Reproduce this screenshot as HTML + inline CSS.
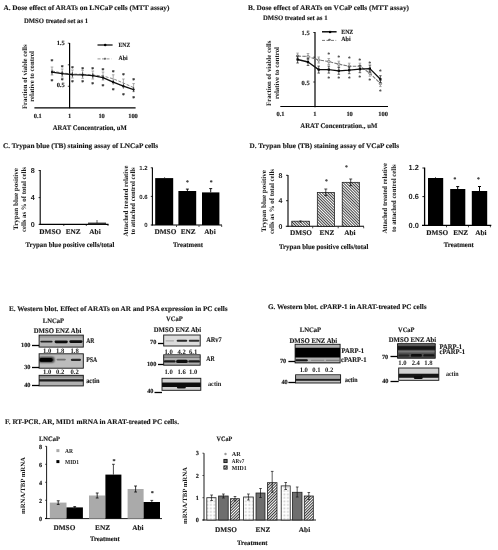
<!DOCTYPE html>
<html lang="en"><head><meta charset="utf-8"><title>Figure</title>
<style>
html,body{margin:0;padding:0;background:#fff;}
body{width:498px;height:550px;overflow:hidden;}
svg{display:block;}
.f{font-family:"Liberation Serif",serif;font-weight:bold;fill:#1a1a1a;text-rendering:geometricPrecision;}
.g{font-family:"Liberation Sans",sans-serif;font-weight:bold;fill:#1a1a1a;text-rendering:geometricPrecision;}
</style></head><body>
<svg width="498" height="550" viewBox="0 0 498 550">
<defs>
<filter id="b1" x="-20%" y="-100%" width="140%" height="300%"><feGaussianBlur stdDeviation="0.7"/></filter>
<filter id="b2" x="-20%" y="-100%" width="140%" height="300%"><feGaussianBlur stdDeviation="1.1"/></filter>
<filter id="soft"><feGaussianBlur stdDeviation="0.35"/></filter>
<pattern id="hat" width="2" height="2" patternUnits="userSpaceOnUse" patternTransform="rotate(45)"><rect width="2" height="2" fill="#fff"/><rect width="2" height="0.85" fill="#222"/></pattern>
<pattern id="hat2" width="2" height="2" patternUnits="userSpaceOnUse" patternTransform="rotate(-45)"><rect width="2" height="2" fill="#fff"/><rect width="2" height="0.9" fill="#222"/></pattern>
<pattern id="dot" width="1.4" height="1.4" patternUnits="userSpaceOnUse"><rect width="1.4" height="1.4" fill="#fff"/><rect width="0.55" height="0.55" fill="#b0b0b0"/></pattern>
</defs>
<rect width="498" height="550" fill="#fff"/>
<g filter="url(#soft)">

<text class="f" x="3.4" y="10.2" font-size="7.07" textLength="166" lengthAdjust="spacingAndGlyphs" stroke="#1a1a1a" stroke-width="0.15">A.  Dose effect of ARATs on LNCaP cells (MTT assay)</text>
<text class="f" x="24" y="23" font-size="6.86" textLength="64" lengthAdjust="spacingAndGlyphs" stroke="#1a1a1a" stroke-width="0.15">DMSO treated set as 1</text>
<line x1="69.6" y1="43" x2="69.6" y2="108.3" stroke="#000" stroke-width="1.2"/>
<line x1="34.4" y1="107.9" x2="135.6" y2="107.9" stroke="#000" stroke-width="1.2"/>
<line x1="67.8" y1="43.2" x2="69.6" y2="43.2" stroke="#000" stroke-width="0.7"/>
<line x1="67.8" y1="64.8" x2="69.6" y2="64.8" stroke="#000" stroke-width="0.7"/>
<line x1="67.8" y1="86.3" x2="69.6" y2="86.3" stroke="#000" stroke-width="0.7"/>
<text class="f" x="64.7" y="45.2" font-size="6.45" text-anchor="end" stroke="#1a1a1a" stroke-width="0.15">1.5</text>
<text class="f" x="64.7" y="86.7" font-size="6.45" text-anchor="end" stroke="#1a1a1a" stroke-width="0.15">0.5</text>
<text class="f" x="37.8" y="117.5" font-size="6.45" text-anchor="middle" stroke="#1a1a1a" stroke-width="0.15">0.1</text>
<text class="f" x="69.6" y="117.5" font-size="6.45" text-anchor="middle" stroke="#1a1a1a" stroke-width="0.15">1</text>
<text class="f" x="101.6" y="117.5" font-size="6.45" text-anchor="middle" stroke="#1a1a1a" stroke-width="0.15">10</text>
<text class="f" x="133" y="117.5" font-size="6.45" text-anchor="middle" stroke="#1a1a1a" stroke-width="0.15">100</text>
<text class="f" x="52.8" y="129.5" font-size="7.07" textLength="74" lengthAdjust="spacingAndGlyphs" stroke="#1a1a1a" stroke-width="0.15">ARAT Concentration, uM</text>
<text class="f" x="26.68" y="109" font-size="6.86" textLength="64.5" lengthAdjust="spacingAndGlyphs" transform="rotate(-90 26.68 109)" fill="#3a3a3a">Fraction of viable cells</text>
<text class="f" x="34.48" y="101.8" font-size="6.86" textLength="50.8" lengthAdjust="spacingAndGlyphs" transform="rotate(-90 34.48 101.8)" fill="#3a3a3a">relative to control</text>
<line x1="97.5" y1="45" x2="112.6" y2="45" stroke="#000" stroke-width="1.2"/>
<circle cx="105.2" cy="45" r="1.3" fill="#000"/>
<text class="f" x="118.6" y="46.9" font-size="6.24" textLength="11.6" lengthAdjust="spacingAndGlyphs" stroke="#1a1a1a" stroke-width="0.15">ENZ</text>
<line x1="97.5" y1="58.9" x2="111.3" y2="58.9" stroke="#888" stroke-width="0.9" stroke-dasharray="3 1.5"/>
<text class="f" x="105" y="60.8" font-size="5" text-anchor="middle" fill="#777" stroke="#777" stroke-width="0.15">*</text>
<text class="f" x="118.6" y="60.2" font-size="6.24" textLength="9" lengthAdjust="spacingAndGlyphs" stroke="#1a1a1a" stroke-width="0.15">Abi</text>
<polyline points="52,71 62.2,73 72.4,74 82.6,74.3 92.8,75 103,76 113.2,78.8 123.4,83 133.6,87.6" fill="none" stroke="#888" stroke-width="1" stroke-dasharray="3 1.5"/>
<line x1="52" y1="67" x2="52" y2="75" stroke="#888" stroke-width="0.7"/>
<line x1="50.7" y1="67" x2="53.3" y2="67" stroke="#888" stroke-width="0.7"/>
<line x1="50.7" y1="75" x2="53.3" y2="75" stroke="#888" stroke-width="0.7"/>
<line x1="62.2" y1="69" x2="62.2" y2="77" stroke="#888" stroke-width="0.7"/>
<line x1="60.900000000000006" y1="69" x2="63.5" y2="69" stroke="#888" stroke-width="0.7"/>
<line x1="60.900000000000006" y1="77" x2="63.5" y2="77" stroke="#888" stroke-width="0.7"/>
<line x1="72.4" y1="70" x2="72.4" y2="78" stroke="#888" stroke-width="0.7"/>
<line x1="71.10000000000001" y1="70" x2="73.7" y2="70" stroke="#888" stroke-width="0.7"/>
<line x1="71.10000000000001" y1="78" x2="73.7" y2="78" stroke="#888" stroke-width="0.7"/>
<line x1="82.6" y1="70.3" x2="82.6" y2="78.3" stroke="#888" stroke-width="0.7"/>
<line x1="81.3" y1="70.3" x2="83.89999999999999" y2="70.3" stroke="#888" stroke-width="0.7"/>
<line x1="81.3" y1="78.3" x2="83.89999999999999" y2="78.3" stroke="#888" stroke-width="0.7"/>
<line x1="92.8" y1="71" x2="92.8" y2="79" stroke="#888" stroke-width="0.7"/>
<line x1="91.5" y1="71" x2="94.1" y2="71" stroke="#888" stroke-width="0.7"/>
<line x1="91.5" y1="79" x2="94.1" y2="79" stroke="#888" stroke-width="0.7"/>
<line x1="103" y1="72" x2="103" y2="80" stroke="#888" stroke-width="0.7"/>
<line x1="101.7" y1="72" x2="104.3" y2="72" stroke="#888" stroke-width="0.7"/>
<line x1="101.7" y1="80" x2="104.3" y2="80" stroke="#888" stroke-width="0.7"/>
<line x1="113.2" y1="74.8" x2="113.2" y2="82.8" stroke="#888" stroke-width="0.7"/>
<line x1="111.9" y1="74.8" x2="114.5" y2="74.8" stroke="#888" stroke-width="0.7"/>
<line x1="111.9" y1="82.8" x2="114.5" y2="82.8" stroke="#888" stroke-width="0.7"/>
<line x1="123.4" y1="79" x2="123.4" y2="87" stroke="#888" stroke-width="0.7"/>
<line x1="122.10000000000001" y1="79" x2="124.7" y2="79" stroke="#888" stroke-width="0.7"/>
<line x1="122.10000000000001" y1="87" x2="124.7" y2="87" stroke="#888" stroke-width="0.7"/>
<line x1="133.6" y1="83.6" x2="133.6" y2="91.6" stroke="#888" stroke-width="0.7"/>
<line x1="132.29999999999998" y1="83.6" x2="134.9" y2="83.6" stroke="#888" stroke-width="0.7"/>
<line x1="132.29999999999998" y1="91.6" x2="134.9" y2="91.6" stroke="#888" stroke-width="0.7"/>
<polyline points="52,72.1 62.2,73.6 72.4,74.6 82.6,74.8 92.8,75.6 103,77.6 113.2,82.2 123.4,86.2 133.6,89.6" fill="none" stroke="#111" stroke-width="1.3" stroke-linejoin="round"/>
<circle cx="52" cy="72.1" r="1.1" fill="#000"/>
<line x1="52" y1="69.6" x2="52" y2="74.6" stroke="#222" stroke-width="0.6"/>
<circle cx="62.2" cy="73.6" r="1.1" fill="#000"/>
<line x1="62.2" y1="71.1" x2="62.2" y2="76.1" stroke="#222" stroke-width="0.6"/>
<circle cx="72.4" cy="74.6" r="1.1" fill="#000"/>
<line x1="72.4" y1="72.1" x2="72.4" y2="77.1" stroke="#222" stroke-width="0.6"/>
<circle cx="82.6" cy="74.8" r="1.1" fill="#000"/>
<line x1="82.6" y1="72.3" x2="82.6" y2="77.3" stroke="#222" stroke-width="0.6"/>
<circle cx="92.8" cy="75.6" r="1.1" fill="#000"/>
<line x1="92.8" y1="73.1" x2="92.8" y2="78.1" stroke="#222" stroke-width="0.6"/>
<circle cx="103" cy="77.6" r="1.1" fill="#000"/>
<line x1="103" y1="75.1" x2="103" y2="80.1" stroke="#222" stroke-width="0.6"/>
<circle cx="113.2" cy="82.2" r="1.1" fill="#000"/>
<line x1="113.2" y1="79.7" x2="113.2" y2="84.7" stroke="#222" stroke-width="0.6"/>
<circle cx="123.4" cy="86.2" r="1.1" fill="#000"/>
<line x1="123.4" y1="83.7" x2="123.4" y2="88.7" stroke="#222" stroke-width="0.6"/>
<circle cx="133.6" cy="89.6" r="1.1" fill="#000"/>
<line x1="133.6" y1="87.1" x2="133.6" y2="92.1" stroke="#222" stroke-width="0.6"/>
<text class="f" x="52" y="63.43" font-size="5.8" text-anchor="middle" fill="#2a2a2a" stroke="#2a2a2a" stroke-width="0.15">*</text>
<text class="f" x="52" y="82.73" font-size="5.8" text-anchor="middle" fill="#2a2a2a" stroke="#2a2a2a" stroke-width="0.15">*</text>
<text class="f" x="62.2" y="68.73" font-size="5.8" text-anchor="middle" fill="#2a2a2a" stroke="#2a2a2a" stroke-width="0.15">*</text>
<text class="f" x="62.2" y="81.73" font-size="5.8" text-anchor="middle" fill="#2a2a2a" stroke="#2a2a2a" stroke-width="0.15">*</text>
<text class="f" x="72.4" y="69.73" font-size="5.8" text-anchor="middle" fill="#2a2a2a" stroke="#2a2a2a" stroke-width="0.15">*</text>
<text class="f" x="72.4" y="84.33" font-size="5.8" text-anchor="middle" fill="#2a2a2a" stroke="#2a2a2a" stroke-width="0.15">*</text>
<text class="f" x="82.6" y="70.73" font-size="5.8" text-anchor="middle" fill="#2a2a2a" stroke="#2a2a2a" stroke-width="0.15">*</text>
<text class="f" x="82.6" y="84.33" font-size="5.8" text-anchor="middle" fill="#2a2a2a" stroke="#2a2a2a" stroke-width="0.15">*</text>
<text class="f" x="92.8" y="70.73" font-size="5.8" text-anchor="middle" fill="#2a2a2a" stroke="#2a2a2a" stroke-width="0.15">*</text>
<text class="f" x="92.8" y="85.53" font-size="5.8" text-anchor="middle" fill="#2a2a2a" stroke="#2a2a2a" stroke-width="0.15">*</text>
<text class="f" x="103" y="71.73" font-size="5.8" text-anchor="middle" fill="#2a2a2a" stroke="#2a2a2a" stroke-width="0.15">*</text>
<text class="f" x="103" y="88.33" font-size="5.8" text-anchor="middle" fill="#2a2a2a" stroke="#2a2a2a" stroke-width="0.15">*</text>
<text class="f" x="113.2" y="74.23" font-size="5.8" text-anchor="middle" fill="#2a2a2a" stroke="#2a2a2a" stroke-width="0.15">*</text>
<text class="f" x="113.2" y="92.33" font-size="5.8" text-anchor="middle" fill="#2a2a2a" stroke="#2a2a2a" stroke-width="0.15">*</text>
<text class="f" x="123.4" y="77.23" font-size="5.8" text-anchor="middle" fill="#2a2a2a" stroke="#2a2a2a" stroke-width="0.15">*</text>
<text class="f" x="123.4" y="96.73" font-size="5.8" text-anchor="middle" fill="#2a2a2a" stroke="#2a2a2a" stroke-width="0.15">*</text>
<text class="f" x="133.6" y="81.53" font-size="5.8" text-anchor="middle" fill="#2a2a2a" stroke="#2a2a2a" stroke-width="0.15">*</text>
<text class="f" x="133.6" y="100.33" font-size="5.8" text-anchor="middle" fill="#2a2a2a" stroke="#2a2a2a" stroke-width="0.15">*</text>
<text class="f" x="248" y="9.8" font-size="7.07" textLength="161" lengthAdjust="spacingAndGlyphs" stroke="#1a1a1a" stroke-width="0.15">B. Dose effect of ARATs on VCaP cells (MTT assay)</text>
<text class="f" x="263" y="20.2" font-size="6.86" textLength="64.5" lengthAdjust="spacingAndGlyphs" stroke="#1a1a1a" stroke-width="0.15">DMSO treated set as 1</text>
<line x1="315" y1="32" x2="315" y2="107.2" stroke="#000" stroke-width="1.2"/>
<line x1="280.3" y1="106.5" x2="388" y2="106.5" stroke="#000" stroke-width="1.2"/>
<line x1="313.2" y1="32.5" x2="315" y2="32.5" stroke="#000" stroke-width="0.7"/>
<line x1="313.2" y1="57.2" x2="315" y2="57.2" stroke="#000" stroke-width="0.7"/>
<line x1="313.2" y1="82" x2="315" y2="82" stroke="#000" stroke-width="0.7"/>
<text class="f" x="309.6" y="35.2" font-size="6.45" text-anchor="end" stroke="#1a1a1a" stroke-width="0.15">1.5</text>
<text class="f" x="309.6" y="85.2" font-size="6.45" text-anchor="end" stroke="#1a1a1a" stroke-width="0.15">0.5</text>
<text class="f" x="280.5" y="116.2" font-size="6.45" text-anchor="middle" stroke="#1a1a1a" stroke-width="0.15">0.1</text>
<text class="f" x="314.8" y="116.2" font-size="6.45" text-anchor="middle" stroke="#1a1a1a" stroke-width="0.15">1</text>
<text class="f" x="349.6" y="116.2" font-size="6.45" text-anchor="middle" stroke="#1a1a1a" stroke-width="0.15">10</text>
<text class="f" x="383.2" y="116.2" font-size="6.45" text-anchor="middle" stroke="#1a1a1a" stroke-width="0.15">100</text>
<text class="f" x="300.3" y="128.2" font-size="7.07" textLength="77" lengthAdjust="spacingAndGlyphs" stroke="#1a1a1a" stroke-width="0.15">ARAT Concentration., uM</text>
<text class="f" x="271.18" y="106" font-size="6.86" textLength="65.4" lengthAdjust="spacingAndGlyphs" transform="rotate(-90 271.18 106)" fill="#3a3a3a">Fraction of viable cells</text>
<text class="f" x="279.38" y="99" font-size="6.86" textLength="52" lengthAdjust="spacingAndGlyphs" transform="rotate(-90 279.38 99)" fill="#3a3a3a">relative to control</text>
<line x1="322" y1="31.8" x2="336.6" y2="31.8" stroke="#000" stroke-width="1.4"/>
<rect x="329" y="30.9" width="2.2" height="2.2" fill="#000"/>
<text class="f" x="341.3" y="34" font-size="6.45" textLength="11.9" lengthAdjust="spacingAndGlyphs" stroke="#1a1a1a" stroke-width="0.15">ENZ</text>
<line x1="322" y1="40.4" x2="336.2" y2="40.4" stroke="#777" stroke-width="1" stroke-dasharray="3 1.5"/>
<text class="f" x="329.4" y="42.3" font-size="5" text-anchor="middle" fill="#666" stroke="#666" stroke-width="0.15">*</text>
<text class="f" x="341.3" y="40.7" font-size="6.45" textLength="9.3" lengthAdjust="spacingAndGlyphs" stroke="#1a1a1a" stroke-width="0.15">Abi</text>
<polyline points="297.6,56.1 308,56.5 318.7,60 328.8,61.5 338.8,64.2 349.2,66.2 359.9,66.2 369.9,73.2 380.4,83.6" fill="none" stroke="#777" stroke-width="1.1" stroke-dasharray="3.5 1.2"/>
<line x1="297.6" y1="53.1" x2="297.6" y2="59.1" stroke="#888" stroke-width="0.7"/>
<line x1="296.3" y1="53.1" x2="298.90000000000003" y2="53.1" stroke="#888" stroke-width="0.7"/>
<line x1="296.3" y1="59.1" x2="298.90000000000003" y2="59.1" stroke="#888" stroke-width="0.7"/>
<circle cx="297.6" cy="56.1" r="1.3" fill="#ccc" stroke="#777" stroke-width="0.7"/>
<line x1="308" y1="53.5" x2="308" y2="59.5" stroke="#888" stroke-width="0.7"/>
<line x1="306.7" y1="53.5" x2="309.3" y2="53.5" stroke="#888" stroke-width="0.7"/>
<line x1="306.7" y1="59.5" x2="309.3" y2="59.5" stroke="#888" stroke-width="0.7"/>
<circle cx="308" cy="56.5" r="1.3" fill="#ccc" stroke="#777" stroke-width="0.7"/>
<line x1="318.7" y1="57" x2="318.7" y2="63" stroke="#888" stroke-width="0.7"/>
<line x1="317.4" y1="57" x2="320.0" y2="57" stroke="#888" stroke-width="0.7"/>
<line x1="317.4" y1="63" x2="320.0" y2="63" stroke="#888" stroke-width="0.7"/>
<circle cx="318.7" cy="60" r="1.3" fill="#ccc" stroke="#777" stroke-width="0.7"/>
<line x1="328.8" y1="58.5" x2="328.8" y2="64.5" stroke="#888" stroke-width="0.7"/>
<line x1="327.5" y1="58.5" x2="330.1" y2="58.5" stroke="#888" stroke-width="0.7"/>
<line x1="327.5" y1="64.5" x2="330.1" y2="64.5" stroke="#888" stroke-width="0.7"/>
<circle cx="328.8" cy="61.5" r="1.3" fill="#ccc" stroke="#777" stroke-width="0.7"/>
<line x1="338.8" y1="61.2" x2="338.8" y2="67.2" stroke="#888" stroke-width="0.7"/>
<line x1="337.5" y1="61.2" x2="340.1" y2="61.2" stroke="#888" stroke-width="0.7"/>
<line x1="337.5" y1="67.2" x2="340.1" y2="67.2" stroke="#888" stroke-width="0.7"/>
<circle cx="338.8" cy="64.2" r="1.3" fill="#ccc" stroke="#777" stroke-width="0.7"/>
<line x1="349.2" y1="63.2" x2="349.2" y2="69.2" stroke="#888" stroke-width="0.7"/>
<line x1="347.9" y1="63.2" x2="350.5" y2="63.2" stroke="#888" stroke-width="0.7"/>
<line x1="347.9" y1="69.2" x2="350.5" y2="69.2" stroke="#888" stroke-width="0.7"/>
<circle cx="349.2" cy="66.2" r="1.3" fill="#ccc" stroke="#777" stroke-width="0.7"/>
<line x1="359.9" y1="63.2" x2="359.9" y2="69.2" stroke="#888" stroke-width="0.7"/>
<line x1="358.59999999999997" y1="63.2" x2="361.2" y2="63.2" stroke="#888" stroke-width="0.7"/>
<line x1="358.59999999999997" y1="69.2" x2="361.2" y2="69.2" stroke="#888" stroke-width="0.7"/>
<circle cx="359.9" cy="66.2" r="1.3" fill="#ccc" stroke="#777" stroke-width="0.7"/>
<line x1="369.9" y1="70.2" x2="369.9" y2="76.2" stroke="#888" stroke-width="0.7"/>
<line x1="368.59999999999997" y1="70.2" x2="371.2" y2="70.2" stroke="#888" stroke-width="0.7"/>
<line x1="368.59999999999997" y1="76.2" x2="371.2" y2="76.2" stroke="#888" stroke-width="0.7"/>
<circle cx="369.9" cy="73.2" r="1.3" fill="#ccc" stroke="#777" stroke-width="0.7"/>
<line x1="380.4" y1="80.6" x2="380.4" y2="86.6" stroke="#888" stroke-width="0.7"/>
<line x1="379.09999999999997" y1="80.6" x2="381.7" y2="80.6" stroke="#888" stroke-width="0.7"/>
<line x1="379.09999999999997" y1="86.6" x2="381.7" y2="86.6" stroke="#888" stroke-width="0.7"/>
<circle cx="380.4" cy="83.6" r="1.3" fill="#ccc" stroke="#777" stroke-width="0.7"/>
<polyline points="297.6,59.5 308,62 318.7,69.6 328.8,69.6 338.8,70.8 349.2,70.2 359.9,69.2 369.9,68.6 380.4,79.2" fill="none" stroke="#111" stroke-width="1.3" stroke-linejoin="round"/>
<rect x="296.5" y="58.4" width="2.2" height="2.2" fill="#000"/>
<line x1="297.6" y1="56.0" x2="297.6" y2="63.0" stroke="#111" stroke-width="0.7"/>
<line x1="296.3" y1="56.0" x2="298.90000000000003" y2="56.0" stroke="#111" stroke-width="0.6"/>
<line x1="296.3" y1="63.0" x2="298.90000000000003" y2="63.0" stroke="#111" stroke-width="0.6"/>
<rect x="306.9" y="60.9" width="2.2" height="2.2" fill="#000"/>
<line x1="308" y1="58.5" x2="308" y2="65.5" stroke="#111" stroke-width="0.7"/>
<line x1="306.7" y1="58.5" x2="309.3" y2="58.5" stroke="#111" stroke-width="0.6"/>
<line x1="306.7" y1="65.5" x2="309.3" y2="65.5" stroke="#111" stroke-width="0.6"/>
<rect x="317.59999999999997" y="68.5" width="2.2" height="2.2" fill="#000"/>
<line x1="318.7" y1="66.1" x2="318.7" y2="73.1" stroke="#111" stroke-width="0.7"/>
<line x1="317.4" y1="66.1" x2="320.0" y2="66.1" stroke="#111" stroke-width="0.6"/>
<line x1="317.4" y1="73.1" x2="320.0" y2="73.1" stroke="#111" stroke-width="0.6"/>
<rect x="327.7" y="68.5" width="2.2" height="2.2" fill="#000"/>
<line x1="328.8" y1="66.1" x2="328.8" y2="73.1" stroke="#111" stroke-width="0.7"/>
<line x1="327.5" y1="66.1" x2="330.1" y2="66.1" stroke="#111" stroke-width="0.6"/>
<line x1="327.5" y1="73.1" x2="330.1" y2="73.1" stroke="#111" stroke-width="0.6"/>
<rect x="337.7" y="69.7" width="2.2" height="2.2" fill="#000"/>
<line x1="338.8" y1="67.3" x2="338.8" y2="74.3" stroke="#111" stroke-width="0.7"/>
<line x1="337.5" y1="67.3" x2="340.1" y2="67.3" stroke="#111" stroke-width="0.6"/>
<line x1="337.5" y1="74.3" x2="340.1" y2="74.3" stroke="#111" stroke-width="0.6"/>
<rect x="348.09999999999997" y="69.10000000000001" width="2.2" height="2.2" fill="#000"/>
<line x1="349.2" y1="66.7" x2="349.2" y2="73.7" stroke="#111" stroke-width="0.7"/>
<line x1="347.9" y1="66.7" x2="350.5" y2="66.7" stroke="#111" stroke-width="0.6"/>
<line x1="347.9" y1="73.7" x2="350.5" y2="73.7" stroke="#111" stroke-width="0.6"/>
<rect x="358.79999999999995" y="68.10000000000001" width="2.2" height="2.2" fill="#000"/>
<line x1="359.9" y1="65.7" x2="359.9" y2="72.7" stroke="#111" stroke-width="0.7"/>
<line x1="358.59999999999997" y1="65.7" x2="361.2" y2="65.7" stroke="#111" stroke-width="0.6"/>
<line x1="358.59999999999997" y1="72.7" x2="361.2" y2="72.7" stroke="#111" stroke-width="0.6"/>
<rect x="368.79999999999995" y="67.5" width="2.2" height="2.2" fill="#000"/>
<line x1="369.9" y1="65.1" x2="369.9" y2="72.1" stroke="#111" stroke-width="0.7"/>
<line x1="368.59999999999997" y1="65.1" x2="371.2" y2="65.1" stroke="#111" stroke-width="0.6"/>
<line x1="368.59999999999997" y1="72.1" x2="371.2" y2="72.1" stroke="#111" stroke-width="0.6"/>
<rect x="379.29999999999995" y="78.10000000000001" width="2.2" height="2.2" fill="#000"/>
<line x1="380.4" y1="75.7" x2="380.4" y2="82.7" stroke="#111" stroke-width="0.7"/>
<line x1="379.09999999999997" y1="75.7" x2="381.7" y2="75.7" stroke="#111" stroke-width="0.6"/>
<line x1="379.09999999999997" y1="82.7" x2="381.7" y2="82.7" stroke="#111" stroke-width="0.6"/>
<text class="f" x="328.8" y="56.14" font-size="5.2" text-anchor="middle" fill="#555" stroke="#555" stroke-width="0.15">*</text>
<text class="f" x="328.8" y="80.04" font-size="5.2" text-anchor="middle" fill="#555" stroke="#555" stroke-width="0.15">*</text>
<text class="f" x="338.8" y="59.14" font-size="5.2" text-anchor="middle" fill="#555" stroke="#555" stroke-width="0.15">*</text>
<text class="f" x="338.8" y="80.04" font-size="5.2" text-anchor="middle" fill="#555" stroke="#555" stroke-width="0.15">*</text>
<text class="f" x="349.2" y="60.44" font-size="5.2" text-anchor="middle" fill="#555" stroke="#555" stroke-width="0.15">*</text>
<text class="f" x="349.2" y="80.04" font-size="5.2" text-anchor="middle" fill="#555" stroke="#555" stroke-width="0.15">*</text>
<text class="f" x="359.9" y="61.94" font-size="5.2" text-anchor="middle" fill="#555" stroke="#555" stroke-width="0.15">*</text>
<text class="f" x="359.9" y="78.64" font-size="5.2" text-anchor="middle" fill="#555" stroke="#555" stroke-width="0.15">*</text>
<text class="f" x="369.9" y="65.14" font-size="5.2" text-anchor="middle" fill="#555" stroke="#555" stroke-width="0.15">*</text>
<text class="f" x="369.9" y="82.04" font-size="5.2" text-anchor="middle" fill="#555" stroke="#555" stroke-width="0.15">*</text>
<text class="f" x="380.4" y="73.24" font-size="5.2" text-anchor="middle" fill="#555" stroke="#555" stroke-width="0.15">*</text>
<text class="f" x="380.4" y="92.74" font-size="5.2" text-anchor="middle" fill="#555" stroke="#555" stroke-width="0.15">*</text>
<text class="f" x="3" y="147.5" font-size="7.07" textLength="155" lengthAdjust="spacingAndGlyphs" stroke="#1a1a1a" stroke-width="0.15">C. Trypan blue (TB) staining assay of LNCaP cells</text>
<line x1="40.2" y1="170" x2="40.2" y2="225" stroke="#000" stroke-width="1.1"/>
<line x1="39.5" y1="224.4" x2="108.5" y2="224.4" stroke="#000" stroke-width="1.1"/>
<line x1="63.8" y1="224.3" x2="63.8" y2="226" stroke="#000" stroke-width="0.7"/>
<line x1="86.3" y1="224.3" x2="86.3" y2="226" stroke="#000" stroke-width="0.7"/>
<line x1="108" y1="224.3" x2="108" y2="226" stroke="#000" stroke-width="0.7"/>
<text class="g" x="34.7" y="173.1" font-size="7.2" text-anchor="end">8</text>
<line x1="38.6" y1="170.5" x2="40.2" y2="170.5" stroke="#000" stroke-width="0.8"/>
<text class="g" x="34.7" y="200.2" font-size="7.2" text-anchor="end">4</text>
<line x1="38.6" y1="197.6" x2="40.2" y2="197.6" stroke="#000" stroke-width="0.8"/>
<text class="g" x="34.7" y="227.0" font-size="7.2" text-anchor="end">0</text>
<line x1="38.6" y1="224.4" x2="40.2" y2="224.4" stroke="#000" stroke-width="0.8"/>
<text class="f" x="50.2" y="234.1" font-size="7.28" text-anchor="middle" stroke="#1a1a1a" stroke-width="0.15">DMSO</text>
<text class="f" x="73.2" y="234.1" font-size="7.28" text-anchor="middle" stroke="#1a1a1a" stroke-width="0.15">ENZ</text>
<text class="f" x="95" y="234.1" font-size="7.28" text-anchor="middle" stroke="#1a1a1a" stroke-width="0.15">Abi</text>
<text class="f" x="25.6" y="247" font-size="7.07" textLength="88.8" lengthAdjust="spacingAndGlyphs" stroke="#1a1a1a" stroke-width="0.15">Trypan blue positive cells/total</text>
<text class="f" x="18.48" y="230" font-size="6.86" textLength="62" lengthAdjust="spacingAndGlyphs" transform="rotate(-90 18.48 230)" fill="#3a3a3a">Trypan blue positive</text>
<text class="f" x="26.28" y="232" font-size="6.86" textLength="65" lengthAdjust="spacingAndGlyphs" transform="rotate(-90 26.28 232)" fill="#3a3a3a">cells as % of total cells</text>
<rect x="88.00" y="222.60" width="18.00" height="1.60" fill="#333"/>
<line x1="97" y1="220" x2="97" y2="223" stroke="#000" stroke-width="0.6"/>
<line x1="152.4" y1="167.6" x2="152.4" y2="225.6" stroke="#000" stroke-width="1.1"/>
<line x1="150.8" y1="225" x2="222" y2="225" stroke="#000" stroke-width="1.1"/>
<line x1="150.8" y1="167.8" x2="152.4" y2="167.8" stroke="#000" stroke-width="0.8"/>
<line x1="150.8" y1="196.4" x2="152.4" y2="196.4" stroke="#000" stroke-width="0.8"/>
<line x1="176.5" y1="225.3" x2="176.5" y2="227" stroke="#000" stroke-width="0.7"/>
<line x1="199" y1="225.3" x2="199" y2="227" stroke="#000" stroke-width="0.7"/>
<line x1="221.7" y1="225.3" x2="221.7" y2="227" stroke="#000" stroke-width="0.7"/>
<text class="g" x="147.7" y="169.79999999999998" font-size="6" text-anchor="end">1.2</text>
<text class="g" x="147.7" y="198.5" font-size="6" text-anchor="end">0.6</text>
<text class="g" x="147.7" y="227.2" font-size="6" text-anchor="end">0</text>
<rect x="155.20" y="178.10" width="18.00" height="46.90" fill="#050505"/>
<rect x="178.40" y="191.00" width="17.80" height="34.00" fill="#050505"/>
<rect x="202.00" y="192.40" width="17.40" height="32.60" fill="#050505"/>
<line x1="187.4" y1="189" x2="187.4" y2="191" stroke="#000" stroke-width="0.9"/>
<line x1="185.9" y1="189.1" x2="188.9" y2="189.1" stroke="#000" stroke-width="0.9"/>
<line x1="210.7" y1="188.5" x2="210.7" y2="192.4" stroke="#000" stroke-width="0.9"/>
<line x1="209.2" y1="188.6" x2="212.2" y2="188.6" stroke="#000" stroke-width="0.9"/>
<line x1="164.6" y1="177.3" x2="164.6" y2="178" stroke="#000" stroke-width="0.7"/>
<text class="f" x="187.5" y="183.83" font-size="5.6" text-anchor="middle" fill="#333" stroke="#333" stroke-width="0.15">*</text>
<text class="f" x="211.2" y="183.83" font-size="5.6" text-anchor="middle" fill="#333" stroke="#333" stroke-width="0.15">*</text>
<text class="f" x="165.4" y="233.7" font-size="7.28" text-anchor="middle" stroke="#1a1a1a" stroke-width="0.15">DMSO</text>
<text class="f" x="188.2" y="233.7" font-size="7.28" text-anchor="middle" stroke="#1a1a1a" stroke-width="0.15">ENZ</text>
<text class="f" x="210" y="233.7" font-size="7.28" text-anchor="middle" stroke="#1a1a1a" stroke-width="0.15">Abi</text>
<text class="f" x="173.1" y="247.1" font-size="7.07" textLength="30" lengthAdjust="spacingAndGlyphs" stroke="#1a1a1a" stroke-width="0.15">Treatment</text>
<text class="f" x="127.68" y="236.4" font-size="6.86" textLength="70.9" lengthAdjust="spacingAndGlyphs" transform="rotate(-90 127.68 236.4)" fill="#3a3a3a">Attached treated relative</text>
<text class="f" x="134.98" y="234.5" font-size="6.86" textLength="67.2" lengthAdjust="spacingAndGlyphs" transform="rotate(-90 134.98 234.5)" fill="#3a3a3a">to attached control cells</text>
<text class="f" x="249.5" y="148.3" font-size="7.07" textLength="149.5" lengthAdjust="spacingAndGlyphs" stroke="#1a1a1a" stroke-width="0.15">D. Trypan blue (TB) staining assay of VCaP cells</text>
<line x1="288" y1="175" x2="288" y2="226.8" stroke="#000" stroke-width="1.1"/>
<line x1="285.8" y1="226.3" x2="364" y2="226.3" stroke="#000" stroke-width="1.1"/>
<line x1="286" y1="175.3" x2="288" y2="175.3" stroke="#000" stroke-width="0.8"/>
<line x1="286" y1="200.7" x2="288" y2="200.7" stroke="#000" stroke-width="0.8"/>
<line x1="312.7" y1="226.6" x2="312.7" y2="228.3" stroke="#000" stroke-width="0.7"/>
<line x1="338.2" y1="226.6" x2="338.2" y2="228.3" stroke="#000" stroke-width="0.7"/>
<line x1="363.7" y1="226.6" x2="363.7" y2="228.3" stroke="#000" stroke-width="0.7"/>
<text class="g" x="282.4" y="177.9" font-size="7" text-anchor="end">8</text>
<text class="g" x="282.4" y="203.2" font-size="7" text-anchor="end">4</text>
<text class="g" x="282.4" y="228.6" font-size="7" text-anchor="end">0</text>
<rect x="291.80" y="221.20" width="17.60" height="5.10" fill="url(#hat)" stroke="#111" stroke-width="0.7"/>
<rect x="317.30" y="192.40" width="17.30" height="33.90" fill="url(#hat)" stroke="#111" stroke-width="0.7"/>
<rect x="342.20" y="182.30" width="17.20" height="44.00" fill="url(#hat)" stroke="#111" stroke-width="0.7"/>
<line x1="325.8" y1="189" x2="325.8" y2="195.6" stroke="#000" stroke-width="0.7"/>
<line x1="324.3" y1="189" x2="327.3" y2="189" stroke="#000" stroke-width="0.7"/>
<line x1="324.3" y1="195.6" x2="327.3" y2="195.6" stroke="#000" stroke-width="0.7"/>
<line x1="350.7" y1="179" x2="350.7" y2="185.7" stroke="#000" stroke-width="0.7"/>
<line x1="349.2" y1="179" x2="352.2" y2="179" stroke="#000" stroke-width="0.7"/>
<line x1="349.2" y1="185.7" x2="352.2" y2="185.7" stroke="#000" stroke-width="0.7"/>
<line x1="300.5" y1="220.8" x2="300.5" y2="222.2" stroke="#000" stroke-width="0.5"/>
<line x1="299.3" y1="220.8" x2="301.7" y2="220.8" stroke="#000" stroke-width="0.5"/>
<line x1="299.3" y1="222.2" x2="301.7" y2="222.2" stroke="#000" stroke-width="0.5"/>
<text class="f" x="326.4" y="183.23" font-size="5.6" text-anchor="middle" fill="#444" stroke="#444" stroke-width="0.15">*</text>
<text class="f" x="346.5" y="169.33" font-size="5.6" text-anchor="middle" fill="#444" stroke="#444" stroke-width="0.15">*</text>
<text class="f" x="301" y="235.1" font-size="7.28" text-anchor="middle" stroke="#1a1a1a" stroke-width="0.15">DMSO</text>
<text class="f" x="327" y="235.1" font-size="7.28" text-anchor="middle" stroke="#1a1a1a" stroke-width="0.15">ENZ</text>
<text class="f" x="349.8" y="235.1" font-size="7.28" text-anchor="middle" stroke="#1a1a1a" stroke-width="0.15">Abi</text>
<text class="f" x="279" y="249.2" font-size="7.07" textLength="89.4" lengthAdjust="spacingAndGlyphs" stroke="#1a1a1a" stroke-width="0.15">Trypan blue positive cells/total</text>
<text class="f" x="266.18" y="232" font-size="6.86" textLength="62" lengthAdjust="spacingAndGlyphs" transform="rotate(-90 266.18 232)" fill="#3a3a3a">Trypan blue positive</text>
<text class="f" x="274.38" y="234" font-size="6.86" textLength="65" lengthAdjust="spacingAndGlyphs" transform="rotate(-90 274.38 234)" fill="#3a3a3a">cells as % of total cells</text>
<line x1="424.6" y1="167.6" x2="424.6" y2="226" stroke="#000" stroke-width="1.3"/>
<line x1="422" y1="225.4" x2="491.3" y2="225.4" stroke="#000" stroke-width="1.3"/>
<line x1="422.4" y1="168" x2="424.6" y2="168" stroke="#000" stroke-width="0.9"/>
<line x1="422.4" y1="196.6" x2="424.6" y2="196.6" stroke="#000" stroke-width="0.9"/>
<line x1="446.5" y1="225.6" x2="446.5" y2="227.3" stroke="#000" stroke-width="0.7"/>
<line x1="468.5" y1="225.6" x2="468.5" y2="227.3" stroke="#000" stroke-width="0.7"/>
<line x1="490.4" y1="225.6" x2="490.4" y2="227.3" stroke="#000" stroke-width="0.7"/>
<text class="g" x="418.8" y="170.1" font-size="7.4" text-anchor="end">1.2</text>
<text class="g" x="418.8" y="199.0" font-size="7.4" text-anchor="end">0.6</text>
<text class="g" x="418.8" y="227.89999999999998" font-size="7.4" text-anchor="end">0.0</text>
<rect x="428.00" y="178.00" width="15.20" height="47.40" fill="#050505"/>
<rect x="450.20" y="189.00" width="15.10" height="36.40" fill="#050505"/>
<rect x="471.80" y="191.00" width="15.40" height="34.40" fill="#050505"/>
<line x1="457.7" y1="186.4" x2="457.7" y2="189" stroke="#000" stroke-width="1"/>
<line x1="456.2" y1="186.6" x2="459.2" y2="186.6" stroke="#000" stroke-width="1"/>
<line x1="479.5" y1="186.3" x2="479.5" y2="191" stroke="#000" stroke-width="1"/>
<line x1="478" y1="186.5" x2="481" y2="186.5" stroke="#000" stroke-width="1"/>
<line x1="435.5" y1="177.2" x2="435.5" y2="178" stroke="#000" stroke-width="0.7"/>
<text class="f" x="454.8" y="181.13" font-size="5.6" text-anchor="middle" fill="#333" stroke="#333" stroke-width="0.15">*</text>
<text class="f" x="478.3" y="181.13" font-size="5.6" text-anchor="middle" fill="#333" stroke="#333" stroke-width="0.15">*</text>
<text class="f" x="437.2" y="234.7" font-size="7.28" text-anchor="middle" stroke="#1a1a1a" stroke-width="0.15">DMSO</text>
<text class="f" x="460.7" y="234.7" font-size="7.28" text-anchor="middle" stroke="#1a1a1a" stroke-width="0.15">ENZ</text>
<text class="f" x="480.8" y="234.7" font-size="7.28" text-anchor="middle" stroke="#1a1a1a" stroke-width="0.15">Abi</text>
<text class="f" x="443.8" y="247.2" font-size="7.07" textLength="30" lengthAdjust="spacingAndGlyphs" stroke="#1a1a1a" stroke-width="0.15">Treatment</text>
<text class="f" x="386.78" y="233.6" font-size="6.86" textLength="70.6" lengthAdjust="spacingAndGlyphs" transform="rotate(-90 386.78 233.6)" fill="#3a3a3a">Attached treated relative</text>
<text class="f" x="396.18" y="232" font-size="6.86" textLength="67.6" lengthAdjust="spacingAndGlyphs" transform="rotate(-90 396.18 232)" fill="#3a3a3a">to attached control cells</text>
<text class="f" x="9" y="310.8" font-size="7.07" textLength="218.5" lengthAdjust="spacingAndGlyphs" stroke="#1a1a1a" stroke-width="0.15">E. Western blot. Effect of ARATs on AR and PSA expression in PC cells</text>
<text class="f" x="42.8" y="323" font-size="6.86" textLength="21.2" lengthAdjust="spacingAndGlyphs" stroke="#1a1a1a" stroke-width="0.15">LNCaP</text>
<text class="f" x="33.7" y="333" font-size="7.07" textLength="47.6" lengthAdjust="spacingAndGlyphs" stroke="#1a1a1a" stroke-width="0.15">DMSO ENZ Abi</text>
<g><clipPath id="c39_335"><rect x="39.1" y="335.1" width="44.2" height="12"/></clipPath>
<rect x="39.10" y="335.10" width="44.20" height="12.00" fill="#b4b4b4"/>
<g clip-path="url(#c39_335)">
<rect x="37.10" y="335.25" width="48.20" height="2.50" rx="1.25" fill="#999" filter="url(#b1)"/>
<rect x="40.35" y="340.70" width="12.23" height="1.80" rx="0.90" fill="#222" filter="url(#b1)"/>
<rect x="54.58" y="340.45" width="13.23" height="2.70" rx="1.35" fill="#111" filter="url(#b1)"/>
<rect x="69.32" y="340.25" width="13.23" height="2.70" rx="1.35" fill="#111" filter="url(#b1)"/>
</g>
<rect x="39.1" y="335.1" width="44.2" height="12" fill="none" stroke="#111" stroke-width="0.9"/></g>
<text class="f" x="86.2" y="343.2" font-size="7.28" textLength="8.2" lengthAdjust="spacingAndGlyphs" stroke="#1a1a1a" stroke-width="0.15">AR</text>
<text class="f" x="30.4" y="347.40000000000003" font-size="6.24" text-anchor="end" stroke="#1a1a1a" stroke-width="0.15">100</text>
<line x1="32" y1="345.5" x2="39.1" y2="345.5" stroke="#000" stroke-width="1.3"/>
<text class="f" x="47.1" y="353" font-size="6.66" text-anchor="middle" font-weight="normal" fill="#333">1.0</text>
<text class="f" x="60.2" y="353" font-size="6.66" text-anchor="middle" font-weight="normal" fill="#333">1.8</text>
<text class="f" x="74.7" y="353" font-size="6.66" text-anchor="middle" font-weight="normal" fill="#333">1.8</text>
<g><clipPath id="c39_353"><rect x="39.1" y="353.8" width="44.2" height="14.4"/></clipPath>
<rect x="39.10" y="353.80" width="44.20" height="14.40" fill="#bcbcbc"/>
<g clip-path="url(#c39_353)">
<rect x="38.85" y="357.30" width="15.23" height="5.00" rx="1.50" fill="#0a0a0a" filter="url(#b2)"/>
<rect x="39.60" y="357.90" width="12.73" height="3.80" rx="1.50" fill="#000" filter="url(#b1)"/>
<rect x="56.58" y="358.80" width="9.23" height="1.60" rx="0.80" fill="#707070" filter="url(#b1)"/>
<rect x="70.82" y="358.70" width="10.23" height="2.20" rx="1.10" fill="#2a2a2a" filter="url(#b1)"/>
</g>
<rect x="39.1" y="353.8" width="44.2" height="14.4" fill="none" stroke="#111" stroke-width="0.9"/></g>
<text class="f" x="86.2" y="361.7" font-size="7.28" textLength="11" lengthAdjust="spacingAndGlyphs" stroke="#1a1a1a" stroke-width="0.15">PSA</text>
<text class="f" x="30.4" y="369.3" font-size="6.24" text-anchor="end" stroke="#1a1a1a" stroke-width="0.15">30</text>
<line x1="32" y1="367.5" x2="39.1" y2="367.5" stroke="#000" stroke-width="1.3"/>
<text class="f" x="47.1" y="374.4" font-size="6.66" text-anchor="middle" font-weight="normal" fill="#333">1.0</text>
<text class="f" x="60.2" y="374.4" font-size="6.66" text-anchor="middle" font-weight="normal" fill="#333">0.2</text>
<text class="f" x="74.7" y="374.4" font-size="6.66" text-anchor="middle" font-weight="normal" fill="#333">0.2</text>
<g><clipPath id="c39_375"><rect x="39.1" y="375.3" width="44.2" height="10.6"/></clipPath>
<rect x="39.10" y="375.30" width="44.20" height="10.60" fill="#b0b0b0"/>
<g clip-path="url(#c39_375)">
<rect x="37.10" y="375.30" width="48.20" height="2.40" rx="1.20" fill="#8a8a8a" filter="url(#b1)"/>
<rect x="38.10" y="379.30" width="46.20" height="2.20" rx="1.10" fill="#1a1a1a" filter="url(#b1)"/>
</g>
<rect x="39.1" y="375.3" width="44.2" height="10.6" fill="none" stroke="#111" stroke-width="0.9"/></g>
<text class="f" x="86.2" y="383" font-size="7.07" textLength="13.3" lengthAdjust="spacingAndGlyphs" stroke="#1a1a1a" stroke-width="0.15">actin</text>
<text class="f" x="30.4" y="387.40000000000003" font-size="6.24" text-anchor="end" stroke="#1a1a1a" stroke-width="0.15">40</text>
<line x1="32" y1="385.5" x2="39.1" y2="385.5" stroke="#000" stroke-width="1.3"/>
<text class="f" x="166" y="321.2" font-size="6.86" textLength="16.8" lengthAdjust="spacingAndGlyphs" stroke="#1a1a1a" stroke-width="0.15">VCaP</text>
<text class="f" x="153.7" y="331.8" font-size="7.07" textLength="47.5" lengthAdjust="spacingAndGlyphs" stroke="#1a1a1a" stroke-width="0.15">DMSO ENZ Abi</text>
<g><clipPath id="c163_335"><rect x="163.7" y="335" width="36.5" height="11"/></clipPath>
<rect x="163.70" y="335.00" width="36.50" height="11.00" fill="#dcdcdc"/>
<g clip-path="url(#c163_335)">
<rect x="165.45" y="340.15" width="8.67" height="1.30" rx="0.65" fill="#aaa" filter="url(#b1)"/>
<rect x="176.62" y="339.65" width="10.67" height="2.10" rx="1.05" fill="#2a2a2a" filter="url(#b1)"/>
<rect x="188.78" y="339.70" width="10.67" height="2.00" rx="1.00" fill="#333" filter="url(#b1)"/>
</g>
<rect x="163.7" y="335" width="36.5" height="11" fill="none" stroke="#111" stroke-width="0.9"/></g>
<text class="f" x="206.2" y="341.8" font-size="7.28" textLength="15.5" lengthAdjust="spacingAndGlyphs" stroke="#1a1a1a" stroke-width="0.15">ARv7</text>
<text class="f" x="156.3" y="344.1" font-size="6.24" text-anchor="end" stroke="#1a1a1a" stroke-width="0.15">70</text>
<line x1="158" y1="343.5" x2="163.7" y2="343.5" stroke="#000" stroke-width="1.3"/>
<text class="f" x="168.7" y="353.8" font-size="6.66" text-anchor="middle" font-weight="normal" fill="#333">1.0</text>
<text class="f" x="181.6" y="353.8" font-size="6.66" text-anchor="middle" font-weight="normal" fill="#333">4.2</text>
<text class="f" x="193.2" y="353.8" font-size="6.66" text-anchor="middle" font-weight="normal" fill="#333">6.1</text>
<g><clipPath id="c163_354"><rect x="163.7" y="354.8" width="36.5" height="10.4"/></clipPath>
<rect x="163.70" y="354.80" width="36.50" height="10.40" fill="#aeaeae"/>
<g clip-path="url(#c163_354)">
<rect x="161.70" y="356.60" width="40.50" height="1.40" rx="0.70" fill="#777" filter="url(#b1)"/>
<rect x="163.95" y="360.20" width="11.67" height="2.40" rx="1.20" fill="#1c1c1c" filter="url(#b1)"/>
<rect x="176.12" y="359.85" width="11.67" height="3.10" rx="1.50" fill="#0c0c0c" filter="url(#b1)"/>
<rect x="188.28" y="360.20" width="11.67" height="2.40" rx="1.20" fill="#1c1c1c" filter="url(#b1)"/>
</g>
<rect x="163.7" y="354.8" width="36.5" height="10.4" fill="none" stroke="#111" stroke-width="0.9"/></g>
<text class="f" x="206.2" y="360.7" font-size="7.28" textLength="8.4" lengthAdjust="spacingAndGlyphs" stroke="#1a1a1a" stroke-width="0.15">AR</text>
<text class="f" x="156.3" y="366.3" font-size="6.24" text-anchor="end" stroke="#1a1a1a" stroke-width="0.15">100</text>
<line x1="158" y1="364.5" x2="163.7" y2="364.5" stroke="#000" stroke-width="1.3"/>
<text class="f" x="168.7" y="373.9" font-size="6.66" text-anchor="middle" font-weight="normal" fill="#333">1.0</text>
<text class="f" x="181.6" y="373.9" font-size="6.66" text-anchor="middle" font-weight="normal" fill="#333">1.6</text>
<text class="f" x="193.2" y="373.9" font-size="6.66" text-anchor="middle" font-weight="normal" fill="#333">1.0</text>
<g><clipPath id="c162_378"><rect x="162" y="378.3" width="38.8" height="12"/></clipPath>
<rect x="162.00" y="378.30" width="38.80" height="12.00" fill="#cfcfcf"/>
<g clip-path="url(#c162_378)">
<rect x="161.00" y="382.60" width="40.80" height="4.40" rx="1.50" fill="#111" filter="url(#b1)"/>
<rect x="176.90" y="384.80" width="9.00" height="3.60" rx="1.50" fill="#111" filter="url(#b1)"/>
</g>
<rect x="162" y="378.3" width="38.8" height="12" fill="none" stroke="#111" stroke-width="0.9"/></g>
<text class="f" x="207.9" y="386.1" font-size="6.86" textLength="13.4" lengthAdjust="spacingAndGlyphs" font-weight="normal" fill="#333">actin</text>
<text class="f" x="153.4" y="393.40000000000003" font-size="6.24" text-anchor="end" stroke="#1a1a1a" stroke-width="0.15">40</text>
<line x1="154.5" y1="392.5" x2="162" y2="392.5" stroke="#000" stroke-width="1.3"/>
<text class="f" x="268" y="309.3" font-size="7.07" textLength="158.5" lengthAdjust="spacingAndGlyphs" stroke="#1a1a1a" stroke-width="0.15">G. Western blot.  cPARP-1 in ARAT-treated PC cells</text>
<text class="f" x="299.7" y="332.2" font-size="6.86" textLength="21.5" lengthAdjust="spacingAndGlyphs" stroke="#1a1a1a" stroke-width="0.15">LNCaP</text>
<text class="f" x="289.4" y="342.6" font-size="7.07" textLength="47.8" lengthAdjust="spacingAndGlyphs" stroke="#1a1a1a" stroke-width="0.15">DMSO ENZ Abi</text>
<g><clipPath id="c295_344"><rect x="295.1" y="344.3" width="45" height="18.6"/></clipPath>
<rect x="295.10" y="344.30" width="45.00" height="18.60" fill="#b2b2b2"/>
<g clip-path="url(#c295_344)">
<rect x="293.10" y="347.80" width="49.00" height="9.60" rx="1.50" fill="#060606" filter="url(#b1)"/>
<rect x="295.35" y="359.20" width="12.50" height="2.00" rx="1.00" fill="#161616" filter="url(#b1)"/>
<rect x="310.85" y="359.70" width="13.50" height="1.20" rx="0.60" fill="#8a8a8a" filter="url(#b1)"/>
<rect x="325.85" y="359.65" width="13.50" height="1.30" rx="0.65" fill="#808080" filter="url(#b1)"/>
<rect x="293.10" y="362.60" width="49.00" height="1.20" rx="0.60" fill="#777" filter="url(#b1)"/>
</g>
<rect x="295.1" y="344.3" width="45" height="18.6" fill="none" stroke="#111" stroke-width="0.9"/></g>
<text class="f" x="341.5" y="353" font-size="7.18" textLength="22.6" lengthAdjust="spacingAndGlyphs" stroke="#1a1a1a" stroke-width="0.15">PARP-1</text>
<text class="f" x="341" y="362.3" font-size="7.18" textLength="25.6" lengthAdjust="spacingAndGlyphs" stroke="#1a1a1a" stroke-width="0.15">cPARP-1</text>
<text class="f" x="286.2" y="362.8" font-size="6.24" text-anchor="end" stroke="#1a1a1a" stroke-width="0.15">70</text>
<line x1="288.4" y1="361.5" x2="295.1" y2="361.5" stroke="#000" stroke-width="1.3"/>
<text class="f" x="303.8" y="372.3" font-size="6.66" text-anchor="middle" font-weight="normal" fill="#333">1.0</text>
<text class="f" x="316.5" y="372.3" font-size="6.66" text-anchor="middle" font-weight="normal" fill="#333">0.1</text>
<text class="f" x="329.1" y="372.3" font-size="6.66" text-anchor="middle" font-weight="normal" fill="#333">0.2</text>
<g><clipPath id="c295_374"><rect x="295.6" y="374.8" width="45" height="8.2"/></clipPath>
<rect x="295.60" y="374.80" width="45.00" height="8.20" fill="#c0c0c0"/>
<g clip-path="url(#c295_374)">
<rect x="293.60" y="376.40" width="49.00" height="1.20" rx="0.60" fill="#909090" filter="url(#b1)"/>
<rect x="294.60" y="378.85" width="47.00" height="1.90" rx="0.95" fill="#1a1a1a" filter="url(#b1)"/>
</g>
<rect x="295.6" y="374.8" width="45" height="8.2" fill="none" stroke="#111" stroke-width="0.9"/></g>
<text class="f" x="345" y="381.7" font-size="6.86" textLength="12.5" lengthAdjust="spacingAndGlyphs" stroke="#1a1a1a" stroke-width="0.15">actin</text>
<text class="f" x="287.7" y="384.20000000000005" font-size="6.24" text-anchor="end" stroke="#1a1a1a" stroke-width="0.15">40</text>
<line x1="288.4" y1="382.5" x2="295.6" y2="382.5" stroke="#000" stroke-width="1.3"/>
<text class="f" x="398" y="331.8" font-size="6.86" textLength="16.5" lengthAdjust="spacingAndGlyphs" stroke="#1a1a1a" stroke-width="0.15">VCaP</text>
<text class="f" x="388.7" y="342.2" font-size="7.07" textLength="47.5" lengthAdjust="spacingAndGlyphs" stroke="#1a1a1a" stroke-width="0.15">DMSO ENZ Abi</text>
<g><clipPath id="c397_343"><rect x="397.6" y="343.7" width="37.6" height="14.5"/></clipPath>
<rect x="397.60" y="343.70" width="37.60" height="14.50" fill="#505050"/>
<g clip-path="url(#c397_343)">
<rect x="395.60" y="343.90" width="41.60" height="1.40" rx="0.70" fill="#6c6c6c" filter="url(#b1)"/>
<rect x="395.60" y="346.30" width="41.60" height="3.40" rx="1.50" fill="#141414" filter="url(#b1)"/>
<rect x="395.60" y="350.80" width="41.60" height="1.80" rx="0.90" fill="#787878" filter="url(#b1)"/>
<rect x="410.88" y="354.10" width="11.03" height="2.60" rx="1.30" fill="#0a0a0a" filter="url(#b1)"/>
<rect x="423.42" y="354.20" width="11.03" height="2.40" rx="1.20" fill="#141414" filter="url(#b1)"/>
<rect x="398.35" y="354.40" width="11.03" height="2.00" rx="1.00" fill="#262626" filter="url(#b1)"/>
</g>
<rect x="397.6" y="343.7" width="37.6" height="14.5" fill="none" stroke="#111" stroke-width="0.9"/></g>
<text class="f" x="439.5" y="348.6" font-size="7.18" textLength="22.6" lengthAdjust="spacingAndGlyphs" stroke="#1a1a1a" stroke-width="0.15">PARP-1</text>
<text class="f" x="439.5" y="354.4" font-size="7.18" textLength="25.6" lengthAdjust="spacingAndGlyphs" stroke="#1a1a1a" stroke-width="0.15">cPARP-1</text>
<text class="f" x="388.2" y="358.90000000000003" font-size="6.24" text-anchor="end" stroke="#1a1a1a" stroke-width="0.15">70</text>
<line x1="390.5" y1="356.5" x2="397.6" y2="356.5" stroke="#000" stroke-width="1.3"/>
<text class="f" x="402.5" y="365" font-size="6.66" text-anchor="middle" font-weight="normal" fill="#333">1.0</text>
<text class="f" x="415.8" y="365" font-size="6.66" text-anchor="middle" font-weight="normal" fill="#333">2.4</text>
<text class="f" x="428.5" y="365" font-size="6.66" text-anchor="middle" font-weight="normal" fill="#333">1.8</text>
<g><clipPath id="c398_368"><rect x="398.7" y="368" width="40.1" height="12.3"/></clipPath>
<rect x="398.70" y="368.00" width="40.10" height="12.30" fill="#d4d4d4"/>
<g clip-path="url(#c398_368)">
<rect x="397.70" y="373.70" width="42.10" height="4.00" rx="1.50" fill="#141414" filter="url(#b1)"/>
<rect x="413.75" y="375.40" width="9.00" height="3.60" rx="1.50" fill="#111" filter="url(#b1)"/>
</g>
<rect x="398.7" y="368" width="40.1" height="12.3" fill="none" stroke="#111" stroke-width="0.9"/></g>
<text class="f" x="445.9" y="376.3" font-size="6.86" textLength="12.8" lengthAdjust="spacingAndGlyphs" font-weight="normal" fill="#333">actin</text>
<text class="f" x="388.4" y="382.8" font-size="6.24" text-anchor="end" stroke="#1a1a1a" stroke-width="0.15">40</text>
<line x1="390.5" y1="381.5" x2="398.7" y2="381.5" stroke="#000" stroke-width="1.3"/>
<text class="f" x="5" y="424.2" font-size="7.07" textLength="174" lengthAdjust="spacingAndGlyphs" stroke="#1a1a1a" stroke-width="0.15">F. RT-PCR. AR, MID1 mRNA in ARAT-treated PC cells.</text>
<text class="f" x="39" y="440.6" font-size="6.66" textLength="21" lengthAdjust="spacingAndGlyphs" stroke="#1a1a1a" stroke-width="0.15">LNCaP</text>
<line x1="46.6" y1="446.2" x2="46.6" y2="519" stroke="#000" stroke-width="0.9"/>
<line x1="45" y1="518.6" x2="162" y2="518.6" stroke="#000" stroke-width="0.9"/>
<text class="f" x="42.2" y="448.5" font-size="6.24" text-anchor="end" stroke="#1a1a1a" stroke-width="0.15">8</text>
<line x1="45" y1="446.3" x2="46.6" y2="446.3" stroke="#000" stroke-width="0.6"/>
<text class="f" x="42.2" y="466.5" font-size="6.24" text-anchor="end" stroke="#1a1a1a" stroke-width="0.15">6</text>
<line x1="45" y1="464.3" x2="46.6" y2="464.3" stroke="#000" stroke-width="0.6"/>
<text class="f" x="42.2" y="484.5" font-size="6.24" text-anchor="end" stroke="#1a1a1a" stroke-width="0.15">4</text>
<line x1="45" y1="482.3" x2="46.6" y2="482.3" stroke="#000" stroke-width="0.6"/>
<text class="f" x="42.2" y="502.5" font-size="6.24" text-anchor="end" stroke="#1a1a1a" stroke-width="0.15">2</text>
<line x1="45" y1="500.3" x2="46.6" y2="500.3" stroke="#000" stroke-width="0.6"/>
<text class="f" x="42.2" y="520.6" font-size="6.24" text-anchor="end" stroke="#1a1a1a" stroke-width="0.15">0</text>
<line x1="45" y1="518.4" x2="46.6" y2="518.4" stroke="#000" stroke-width="0.6"/>
<rect x="49.80" y="502.60" width="16.70" height="16.00" fill="#aaa"/>
<rect x="66.50" y="507.40" width="16.40" height="11.20" fill="#050505"/>
<rect x="89.00" y="495.50" width="16.40" height="23.10" fill="#aaa"/>
<rect x="105.40" y="474.60" width="16.00" height="44.00" fill="#050505"/>
<rect x="127.60" y="489.00" width="16.00" height="29.60" fill="#aaa"/>
<rect x="143.60" y="502.00" width="16.40" height="16.60" fill="#050505"/>
<line x1="58.2" y1="500.8" x2="58.2" y2="504.4" stroke="#111" stroke-width="0.85"/>
<line x1="56.800000000000004" y1="500.8" x2="59.6" y2="500.8" stroke="#111" stroke-width="0.85"/>
<line x1="56.800000000000004" y1="504.4" x2="59.6" y2="504.4" stroke="#111" stroke-width="0.85"/>
<line x1="74.7" y1="506.6" x2="74.7" y2="508.2" stroke="#111" stroke-width="0.85"/>
<line x1="73.3" y1="506.6" x2="76.10000000000001" y2="506.6" stroke="#111" stroke-width="0.85"/>
<line x1="73.3" y1="508.2" x2="76.10000000000001" y2="508.2" stroke="#111" stroke-width="0.85"/>
<line x1="97.2" y1="493" x2="97.2" y2="498" stroke="#111" stroke-width="0.85"/>
<line x1="95.8" y1="493" x2="98.60000000000001" y2="493" stroke="#111" stroke-width="0.85"/>
<line x1="95.8" y1="498" x2="98.60000000000001" y2="498" stroke="#111" stroke-width="0.85"/>
<line x1="113.4" y1="464.3" x2="113.4" y2="474.6" stroke="#000" stroke-width="0.7"/>
<line x1="112" y1="464.3" x2="114.8" y2="464.3" stroke="#000" stroke-width="0.7"/>
<line x1="135.6" y1="486" x2="135.6" y2="492" stroke="#111" stroke-width="0.85"/>
<line x1="134.2" y1="486" x2="137.0" y2="486" stroke="#111" stroke-width="0.85"/>
<line x1="134.2" y1="492" x2="137.0" y2="492" stroke="#111" stroke-width="0.85"/>
<line x1="151.8" y1="500.4" x2="151.8" y2="502" stroke="#000" stroke-width="0.7"/>
<line x1="150.4" y1="500.4" x2="153.2" y2="500.4" stroke="#000" stroke-width="0.7"/>
<text class="f" x="113.9" y="462.62" font-size="6" text-anchor="middle" fill="#333" stroke="#333" stroke-width="0.15">*</text>
<text class="f" x="152.3" y="495.22" font-size="6" text-anchor="middle" fill="#333" stroke="#333" stroke-width="0.15">*</text>
<rect x="56.40" y="449.10" width="3.00" height="3.00" fill="#aaa"/>
<text class="f" x="65" y="452.8" font-size="6.24" textLength="8" lengthAdjust="spacingAndGlyphs" font-weight="normal">AR</text>
<rect x="56.40" y="460.10" width="3.00" height="3.00" fill="#000"/>
<text class="f" x="65" y="463.8" font-size="6.24" textLength="14" lengthAdjust="spacingAndGlyphs" font-weight="normal">MID1</text>
<text class="f" x="64.4" y="529.6" font-size="7.28" text-anchor="middle" stroke="#1a1a1a" stroke-width="0.15">DMSO</text>
<text class="f" x="102.6" y="529.6" font-size="7.28" text-anchor="middle" stroke="#1a1a1a" stroke-width="0.15">ENZ</text>
<text class="f" x="137.9" y="529.6" font-size="7.28" text-anchor="middle" stroke="#1a1a1a" stroke-width="0.15">Abi</text>
<text class="f" x="90" y="540.8" font-size="6.86" textLength="29.6" lengthAdjust="spacingAndGlyphs" stroke="#1a1a1a" stroke-width="0.15">Treatment</text>
<text class="f" x="25.07" y="514" font-size="6.45" textLength="57" lengthAdjust="spacingAndGlyphs" transform="rotate(-90 25.07 514)" fill="#222">mRNA/TBP mRNA</text>
<text class="f" x="216.6" y="440.8" font-size="6.66" textLength="15.7" lengthAdjust="spacingAndGlyphs" stroke="#1a1a1a" stroke-width="0.15">VCaP</text>
<line x1="204" y1="453.2" x2="204" y2="520.4" stroke="#000" stroke-width="0.9"/>
<line x1="202.4" y1="520" x2="316" y2="520" stroke="#000" stroke-width="0.9"/>
<text class="f" x="198.8" y="455.4" font-size="6.24" text-anchor="end" stroke="#1a1a1a" stroke-width="0.15">3</text>
<line x1="202.4" y1="453.2" x2="204" y2="453.2" stroke="#000" stroke-width="0.6"/>
<text class="f" x="198.8" y="477.7" font-size="6.24" text-anchor="end" stroke="#1a1a1a" stroke-width="0.15">2</text>
<line x1="202.4" y1="475.5" x2="204" y2="475.5" stroke="#000" stroke-width="0.6"/>
<text class="f" x="198.8" y="499.9" font-size="6.24" text-anchor="end" stroke="#1a1a1a" stroke-width="0.15">1</text>
<line x1="202.4" y1="497.7" x2="204" y2="497.7" stroke="#000" stroke-width="0.6"/>
<text class="f" x="198.8" y="522.2" font-size="6.24" text-anchor="end" stroke="#1a1a1a" stroke-width="0.15">0</text>
<line x1="202.4" y1="520" x2="204" y2="520" stroke="#000" stroke-width="0.6"/>
<rect x="206.80" y="497.70" width="9.20" height="22.30" fill="url(#dot)" stroke="#222" stroke-width="0.8"/>
<rect x="218.60" y="496.00" width="9.60" height="24.00" fill="#6e6e6e" stroke="#222" stroke-width="0.8"/>
<rect x="230.40" y="498.70" width="9.00" height="21.30" fill="url(#hat2)" stroke="#222" stroke-width="0.8"/>
<rect x="243.60" y="497.00" width="9.70" height="23.00" fill="url(#dot)" stroke="#222" stroke-width="0.8"/>
<rect x="256.00" y="493.00" width="9.00" height="27.00" fill="#6e6e6e" stroke="#222" stroke-width="0.8"/>
<rect x="267.40" y="482.70" width="9.60" height="37.30" fill="url(#hat2)" stroke="#222" stroke-width="0.8"/>
<rect x="281.20" y="485.90" width="9.00" height="34.10" fill="url(#dot)" stroke="#222" stroke-width="0.8"/>
<rect x="292.50" y="492.30" width="9.50" height="27.70" fill="#6e6e6e" stroke="#222" stroke-width="0.8"/>
<rect x="304.30" y="496.00" width="9.00" height="24.00" fill="url(#hat2)" stroke="#222" stroke-width="0.8"/>
<line x1="211.6" y1="495" x2="211.6" y2="500.5" stroke="#111" stroke-width="0.7"/>
<line x1="210.29999999999998" y1="495" x2="212.9" y2="495" stroke="#111" stroke-width="0.7"/>
<line x1="210.29999999999998" y1="500.5" x2="212.9" y2="500.5" stroke="#111" stroke-width="0.7"/>
<line x1="223.4" y1="494" x2="223.4" y2="498" stroke="#111" stroke-width="0.7"/>
<line x1="222.1" y1="494" x2="224.70000000000002" y2="494" stroke="#111" stroke-width="0.7"/>
<line x1="222.1" y1="498" x2="224.70000000000002" y2="498" stroke="#111" stroke-width="0.7"/>
<line x1="235" y1="496.5" x2="235" y2="501" stroke="#111" stroke-width="0.7"/>
<line x1="233.7" y1="496.5" x2="236.3" y2="496.5" stroke="#111" stroke-width="0.7"/>
<line x1="233.7" y1="501" x2="236.3" y2="501" stroke="#111" stroke-width="0.7"/>
<line x1="248.4" y1="494" x2="248.4" y2="500" stroke="#111" stroke-width="0.7"/>
<line x1="247.1" y1="494" x2="249.70000000000002" y2="494" stroke="#111" stroke-width="0.7"/>
<line x1="247.1" y1="500" x2="249.70000000000002" y2="500" stroke="#111" stroke-width="0.7"/>
<line x1="260.5" y1="488.5" x2="260.5" y2="497.5" stroke="#111" stroke-width="0.7"/>
<line x1="259.2" y1="488.5" x2="261.8" y2="488.5" stroke="#111" stroke-width="0.7"/>
<line x1="259.2" y1="497.5" x2="261.8" y2="497.5" stroke="#111" stroke-width="0.7"/>
<line x1="272.2" y1="471.4" x2="272.2" y2="492.3" stroke="#111" stroke-width="0.7"/>
<line x1="270.9" y1="471.4" x2="273.5" y2="471.4" stroke="#111" stroke-width="0.7"/>
<line x1="270.9" y1="492.3" x2="273.5" y2="492.3" stroke="#111" stroke-width="0.7"/>
<line x1="285.7" y1="482.5" x2="285.7" y2="489.5" stroke="#111" stroke-width="0.7"/>
<line x1="284.4" y1="482.5" x2="287.0" y2="482.5" stroke="#111" stroke-width="0.7"/>
<line x1="284.4" y1="489.5" x2="287.0" y2="489.5" stroke="#111" stroke-width="0.7"/>
<line x1="297.2" y1="487" x2="297.2" y2="497" stroke="#111" stroke-width="0.7"/>
<line x1="295.9" y1="487" x2="298.5" y2="487" stroke="#111" stroke-width="0.7"/>
<line x1="295.9" y1="497" x2="298.5" y2="497" stroke="#111" stroke-width="0.7"/>
<line x1="308.8" y1="492.5" x2="308.8" y2="499.5" stroke="#111" stroke-width="0.7"/>
<line x1="307.5" y1="492.5" x2="310.1" y2="492.5" stroke="#111" stroke-width="0.7"/>
<line x1="307.5" y1="499.5" x2="310.1" y2="499.5" stroke="#111" stroke-width="0.7"/>
<circle cx="225.5" cy="454" r="1.2" fill="#999"/>
<text class="f" x="231.8" y="456.1" font-size="6.24" textLength="9" lengthAdjust="spacingAndGlyphs" font-weight="normal">AR</text>
<rect x="223.90" y="459.40" width="3.20" height="3.20" fill="#666" stroke="#111" stroke-width="0.9"/>
<text class="f" x="231.8" y="463.1" font-size="6.24" textLength="12.5" lengthAdjust="spacingAndGlyphs" font-weight="normal">ARv7</text>
<rect x="223.90" y="465.90" width="3.20" height="3.20" fill="url(#hat2)" stroke="#111" stroke-width="0.9"/>
<text class="f" x="231.8" y="469.7" font-size="6.24" textLength="14.8" lengthAdjust="spacingAndGlyphs" font-weight="normal">MID1</text>
<text class="f" x="226" y="532.2" font-size="7.28" text-anchor="middle" stroke="#1a1a1a" stroke-width="0.15">DMSO</text>
<text class="f" x="263" y="532.2" font-size="7.28" text-anchor="middle" stroke="#1a1a1a" stroke-width="0.15">ENZ</text>
<text class="f" x="304.5" y="532.2" font-size="7.28" text-anchor="middle" stroke="#1a1a1a" stroke-width="0.15">Abi</text>
<text class="f" x="237" y="544.6" font-size="6.66" textLength="30.5" lengthAdjust="spacingAndGlyphs" stroke="#1a1a1a" stroke-width="0.15">Treatment</text>
<text class="f" x="186.87" y="524" font-size="6.45" textLength="57" lengthAdjust="spacingAndGlyphs" transform="rotate(-90 186.87 524)" fill="#222">mRNA/TBP mRNA</text>
</g></svg></body></html>
